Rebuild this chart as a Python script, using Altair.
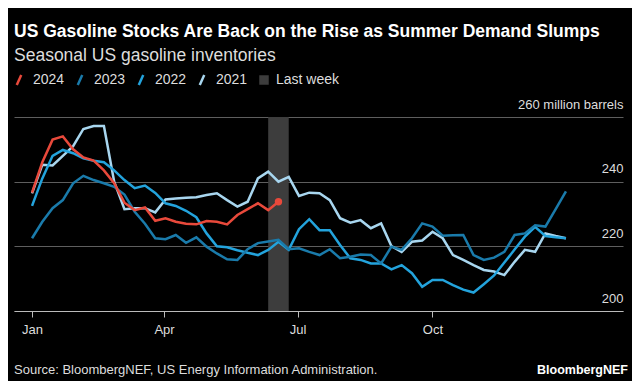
import altair as alt
import pandas as pd

# ---------------- data (weekly) ----------------
years = ["2024", "2023", "2022", "2021"]
year_colors = ["#e8493b", "#1a7bab", "#23a3dc", "#a8d6ef"]

stocks_2024 = [236.6, 246.0, 253.0, 254.0, 250.0, 247.5, 246.5, 243.5, 239.5, 233.5,
               231.2, 232.0, 227.9, 228.7, 227.6, 227.0, 226.8, 227.8, 227.6, 226.8,
               229.7, 231.5, 233.3, 231.2, 233.8]
stocks_2023 = [222.5, 227.6, 231.8, 234.3, 239.5, 241.8, 240.5, 239.5, 238.4, 236.0,
               230.7, 227.0, 222.5, 222.2, 223.5, 221.1, 222.8, 219.9, 217.8, 216.0,
               215.8, 219.1, 221.0, 221.5, 222.0, 219.1, 219.4, 218.3, 217.3, 219.1,
               216.3, 216.8, 217.5, 217.3, 214.7, 219.9, 218.9, 222.5, 227.1, 226.1,
               223.3, 223.4, 223.5, 217.3, 215.8, 216.5, 218.3, 223.5, 224.0, 226.5,
               226.1, 231.5, 237.0]
stocks_2022 = [232.5, 241.0, 248.0, 249.8, 248.8, 247.2, 246.5, 246.0, 243.5, 240.5,
               238.0, 238.8, 236.5, 233.3, 232.5, 231.0, 229.0, 224.0, 220.0, 219.7,
               218.8, 218.0, 217.3, 218.9, 221.4, 218.9, 225.3, 228.4, 225.0, 225.0,
               220.4, 216.3, 215.8, 214.7, 214.7, 212.9, 214.2, 211.7, 207.5, 209.6,
               209.6, 208.0, 206.6, 205.7, 208.3, 211.0, 215.0, 219.0, 223.0, 226.0,
               223.2, 222.8, 222.5]
stocks_2021 = [236.4, 245.2, 245.0, 248.0, 251.0, 256.3, 257.2, 257.2, 240.0, 231.5,
               231.8, 231.8, 230.5, 234.5, 234.8, 235.0, 235.2, 235.9, 236.4, 234.3,
               232.3, 233.8, 241.0, 243.1, 240.0, 241.5, 235.6, 236.6, 236.4, 234.3,
               228.7, 227.3, 228.1, 225.6, 227.1, 220.1, 218.3, 221.4, 221.8, 224.5,
               222.5, 217.3, 215.8, 214.2, 212.7, 212.2, 211.1, 215.2, 218.9, 218.3,
               224.0, 223.2, 222.5]

# "Last week" band, in day-of-year
last_week_label = "Last week"
last_week_start = [161]
last_week_end = [175]

month_ticks = [0, 90, 181, 273]
month_labels = ["Jan", "Apr", "Jul", "Oct"]
y_ticks = [200, 220, 240, 260]

title_text = "US Gasoline Stocks Are Back on the Rise as Summer Demand Slumps"
subtitle_text = "Seasonal US gasoline inventories"
source_text = "Source: BloombergNEF, US Energy Information Administration."
brand_text = "BloombergNEF"

# ---------------- build tables ----------------
series = {"2021": stocks_2021, "2022": stocks_2022, "2023": stocks_2023, "2024": stocks_2024}
rows = []
for yr, vals in series.items():
    for k, v in enumerate(vals):
        rows.append({"year": yr, "day": 7 * k, "stocks": v})
df = pd.DataFrame(rows)
last_2024 = df[df["year"] == "2024"].tail(1)

band = pd.DataFrame({"start": last_week_start, "end": last_week_end,
                     "label": [last_week_label]})

FONT = "Liberation Sans"
W, H = 609, 194
x_scale = alt.Scale(domain=[-12.3, 402.9], nice=False, zero=False)
y_scale = alt.Scale(domain=[200, 260], nice=False, zero=False)

label_expr = "".join(
    f"datum.value == {t} ? '{l}' : " for t, l in zip(month_ticks, month_labels)
) + "''"

shade = alt.Chart(band).mark_rect().encode(
    x=alt.X("start:Q", scale=x_scale,
            axis=alt.Axis(values=month_ticks, labelExpr=label_expr, title=None,
                          grid=False, domainColor="#bbbbbb", tickColor="#bbbbbb",
                          tickSize=6, labelPadding=6, labelColor="#dddddd",
                          labelFontSize=13, labelFont=FONT, labelFlush=False)),
    x2="end:Q",
    fill=alt.Fill("label:N", scale=alt.Scale(range=["#3d3d3d"]),
                  legend=alt.Legend(orient="none", legendX=243, legendY=-44,
                                    title=None, symbolType="square", symbolSize=90,
                                    labelFontSize=14, labelFont=FONT,
                                    labelColor="#dddddd", labelOffset=5, padding=0)),
)

lines = alt.Chart(df).mark_line(strokeWidth=2.5).encode(
    x=alt.X("day:Q", scale=x_scale),
    y=alt.Y("stocks:Q", scale=y_scale,
            axis=alt.Axis(orient="right", values=y_ticks, title=None, grid=True,
                          gridColor="#5e5e5e", domain=False, ticks=False,
                          labelAlign="right", labelBaseline="alphabetic",
                          labelPadding=0, labelOffset=-9, labelColor="#dddddd",
                          labelFontSize=13, labelFont=FONT, labelFlush=False,
                          labelExpr="datum.value == 260 ? '260 million barrels' : datum.label")),
    stroke=alt.Stroke("year:N", scale=alt.Scale(domain=years, range=year_colors),
                      legend=alt.Legend(orient="none", legendX=-2, legendY=-44,
                                        direction="horizontal", title=None,
                                        symbolType="M-0.45,1L0.45,-1", symbolSize=100,
                                        symbolStrokeWidth=2.5, labelFontSize=14,
                                        labelFont=FONT, labelColor="#dddddd",
                                        columnPadding=7, labelOffset=7, padding=0,
                                        gridAlign="none")),
    detail="year:N",
)

dot = alt.Chart(last_2024).mark_circle(size=55, opacity=1, color="#e8493b").encode(
    x=alt.X("day:Q", scale=x_scale),
    y=alt.Y("stocks:Q", scale=y_scale),
)

source = alt.Chart(pd.DataFrame({"t": [source_text]})).mark_text(
    align="left", baseline="middle", font=FONT, fontSize=13, color="#dddddd"
).encode(text="t:N", x=alt.value(0), y=alt.value(253))

brand = alt.Chart(pd.DataFrame({"t": [brand_text]})).mark_text(
    align="right", baseline="middle", font=FONT, fontSize=12.5, fontWeight="bold",
    color="#ffffff"
).encode(text="t:N", x=alt.value(614), y=alt.value(253))

chart = alt.layer(shade, lines, dot, source, brand).resolve_scale(
    fill="independent", stroke="independent"
).properties(
    width=W, height=H,
    autosize=alt.AutoSizeParams(type="none"),
    padding={"left": 6, "top": 109, "right": 9, "bottom": 70},
    background="#000000",
    title=alt.TitleParams(
        text=title_text, subtitle=subtitle_text, anchor="start", frame="group",
        offset=9, font=FONT, fontSize=17.5, fontWeight="bold", color="#ffffff",
        subtitleFont=FONT, subtitleFontSize=17.5, subtitleColor="#dddddd",
        subtitlePadding=6,
    ),
).configure_view(stroke=None)

chart.save("out.html", embed_options={"renderer": "svg", "actions": False})
